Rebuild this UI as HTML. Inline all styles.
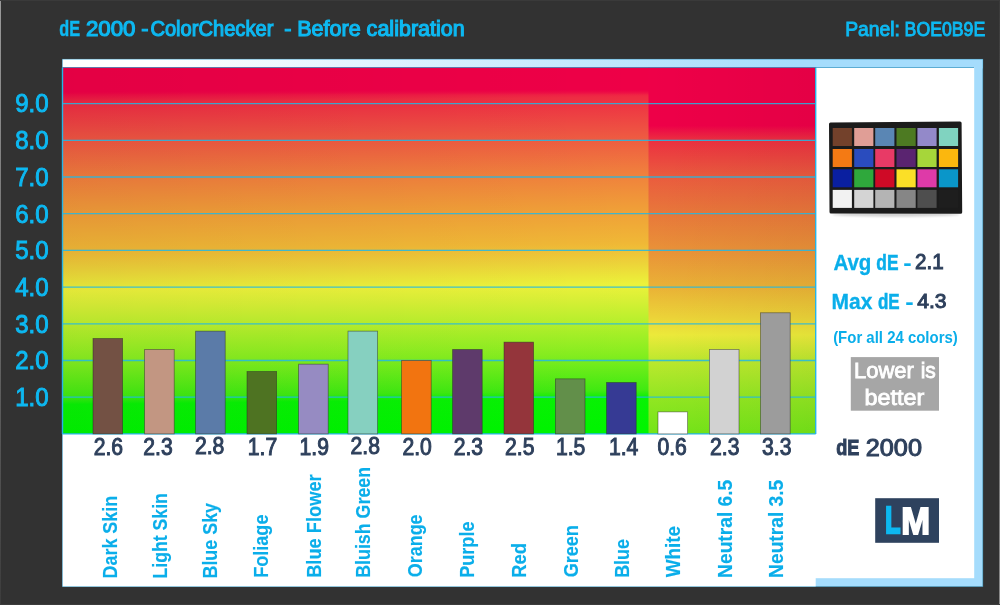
<!DOCTYPE html>
<html lang="en"><head><meta charset="utf-8"><title>dE 2000 - ColorChecker - Before calibration</title>
<style>html,body{margin:0;padding:0;background:#323232;}body{width:1000px;height:605px;overflow:hidden;}svg{display:block;}text{font-family:"Liberation Sans",sans-serif;}</style>
</head><body>
<svg width="1000" height="605" viewBox="0 0 1000 605">
<defs>
<linearGradient id="gmain" gradientUnits="userSpaceOnUse" x1="62.50" y1="67.50" x2="66.88" y2="433.85">
<stop offset="0.0000" stop-color="#ee0047"/>
<stop offset="0.0665" stop-color="#ee0047"/>
<stop offset="0.0985" stop-color="#ee2c43"/>
<stop offset="0.1987" stop-color="#ee5642"/>
<stop offset="0.2989" stop-color="#f07d3d"/>
<stop offset="0.3990" stop-color="#f09d38"/>
<stop offset="0.4992" stop-color="#f0b836"/>
<stop offset="0.5493" stop-color="#edd139"/>
<stop offset="0.5943" stop-color="#ecea39"/>
<stop offset="0.6094" stop-color="#ecf23b"/>
<stop offset="0.6494" stop-color="#d9f036"/>
<stop offset="0.6995" stop-color="#bef02e"/>
<stop offset="0.7997" stop-color="#86ee1f"/>
<stop offset="0.8998" stop-color="#3fea11"/>
<stop offset="0.9199" stop-color="#08f204"/>
<stop offset="1.0000" stop-color="#00f500"/>
</linearGradient>
<linearGradient id="gneu" x1="0" y1="0" x2="0" y2="1">
<stop offset="0.0000" stop-color="#ee0048"/>
<stop offset="0.1586" stop-color="#ee0048"/>
<stop offset="0.1987" stop-color="#ec3040"/>
<stop offset="0.2989" stop-color="#ea5c3e"/>
<stop offset="0.3990" stop-color="#e8783a"/>
<stop offset="0.4992" stop-color="#e99238"/>
<stop offset="0.5993" stop-color="#eab236"/>
<stop offset="0.6795" stop-color="#ecd238"/>
<stop offset="0.7296" stop-color="#ecea3a"/>
<stop offset="0.7997" stop-color="#bce82e"/>
<stop offset="0.8998" stop-color="#92e622"/>
<stop offset="1.0000" stop-color="#74e418"/>
</linearGradient>
<linearGradient id="gtop" x1="0" y1="0" x2="1" y2="0"><stop offset="0.1" stop-color="#ffffff"/><stop offset="0.8" stop-color="#a5dcfc"/></linearGradient>
<linearGradient id="gshade" x1="0" y1="0" x2="1" y2="0"><stop offset="0" stop-color="#000" stop-opacity="0.045"/><stop offset="1" stop-color="#000" stop-opacity="0"/></linearGradient>
<linearGradient id="gleft" x1="0" y1="0" x2="0" y2="1"><stop offset="0" stop-color="#9a9a9a"/><stop offset="1" stop-color="#3c3c3c"/></linearGradient>
<linearGradient id="gright" x1="0" y1="0" x2="0" y2="1"><stop offset="0" stop-color="#3a3a3a"/><stop offset="1" stop-color="#8a8a8a"/></linearGradient>
<linearGradient id="gcap" x1="0" y1="0" x2="0" y2="1"><stop offset="0" stop-color="#ee0047" stop-opacity="1"/><stop offset="1" stop-color="#ee0047" stop-opacity="0"/></linearGradient>
<filter id="blur" x="-10%" y="-300%" width="120%" height="700%"><feGaussianBlur stdDeviation="1.2"/></filter>
<linearGradient id="gshade2" x1="0" y1="0" x2="1" y2="0"><stop offset="0" stop-color="#000" stop-opacity="0"/><stop offset="1" stop-color="#000" stop-opacity="0.04"/></linearGradient>
</defs>
<rect x="0" y="0" width="1000" height="605" fill="#323232"/>
<rect x="0" y="0" width="1" height="605" fill="url(#gleft)"/>
<rect x="999" y="0" width="1" height="605" fill="url(#gright)"/>
<rect x="0" y="0" width="1000" height="1" fill="#3a3a3a"/>
<rect x="0" y="604" width="1000" height="1" fill="#3c3c3c"/>
<rect x="62.5" y="59.3" width="920.3" height="527.3" fill="#a5dcfc"/>
<rect x="62.5" y="59.3" width="920.3" height="9.2" fill="url(#gtop)"/>
<rect x="62.5" y="433.9" width="753.2" height="152.7" fill="#fff"/>
<rect x="813.7" y="67.5" width="160.5" height="510.7" fill="#fff"/>
<rect x="62.5" y="59.3" width="920.3" height="527.3" fill="none" stroke="#2aa6d6" stroke-opacity="0.4" stroke-width="0.9"/>
<rect x="62.5" y="67.5" width="753.2" height="366.4" fill="url(#gmain)"/>
<rect x="62.5" y="67.5" width="587" height="22.5" fill="#ee0047"/>
<rect x="62.5" y="89.9" width="587" height="5" fill="url(#gcap)"/>
<rect x="62.5" y="67.5" width="586" height="366.4" fill="url(#gshade)"/>
<rect x="648.5" y="67.5" width="167.2" height="366.4" fill="url(#gneu)"/>
<rect x="648.5" y="67.5" width="167.2" height="366.4" fill="url(#gshade2)"/>
<line x1="62.5" y1="397.20" x2="815.7" y2="397.20" stroke="#22b8e4" stroke-opacity="0.85" stroke-width="1.3"/>
<line x1="62.5" y1="360.50" x2="815.7" y2="360.50" stroke="#22b8e4" stroke-opacity="0.85" stroke-width="1.3"/>
<line x1="62.5" y1="323.80" x2="815.7" y2="323.80" stroke="#22b8e4" stroke-opacity="0.85" stroke-width="1.3"/>
<line x1="62.5" y1="287.10" x2="815.7" y2="287.10" stroke="#22b8e4" stroke-opacity="0.85" stroke-width="1.3"/>
<line x1="62.5" y1="250.40" x2="815.7" y2="250.40" stroke="#22b8e4" stroke-opacity="0.85" stroke-width="1.3"/>
<line x1="62.5" y1="213.70" x2="815.7" y2="213.70" stroke="#22b8e4" stroke-opacity="0.85" stroke-width="1.3"/>
<line x1="62.5" y1="177.00" x2="815.7" y2="177.00" stroke="#22b8e4" stroke-opacity="0.85" stroke-width="1.3"/>
<line x1="62.5" y1="140.30" x2="815.7" y2="140.30" stroke="#22b8e4" stroke-opacity="0.85" stroke-width="1.3"/>
<line x1="62.5" y1="103.60" x2="815.7" y2="103.60" stroke="#22b8e4" stroke-opacity="0.85" stroke-width="1.3"/>
<line x1="62.5" y1="433.90" x2="815.7" y2="433.90" stroke="#27b4e6" stroke-width="1.4"/>
<line x1="62.5" y1="67.5" x2="62.5" y2="433.9" stroke="#27b4e6" stroke-width="1.4"/>
<line x1="815.7" y1="67.5" x2="815.7" y2="433.9" stroke="#27b4e6" stroke-width="1.4"/>
<line x1="62.5" y1="67.5" x2="974" y2="67.5" stroke="#2a90c0" stroke-opacity="0.7" stroke-width="1"/>
<rect x="93.00" y="338.48" width="29.6" height="95.42" fill="#735144" stroke="rgba(40,40,40,0.55)" stroke-width="0.8"/>
<rect x="144.60" y="349.49" width="29.6" height="84.41" fill="#c29682" stroke="rgba(40,40,40,0.55)" stroke-width="0.8"/>
<rect x="195.60" y="331.14" width="29.6" height="102.76" fill="#5b7ba8" stroke="rgba(40,40,40,0.55)" stroke-width="0.8"/>
<rect x="247.00" y="371.51" width="29.6" height="62.39" fill="#4e7322" stroke="rgba(40,40,40,0.55)" stroke-width="0.8"/>
<rect x="298.60" y="364.17" width="29.6" height="69.73" fill="#968bc2" stroke="rgba(40,40,40,0.55)" stroke-width="0.8"/>
<rect x="348.00" y="331.14" width="29.6" height="102.76" fill="#86d0c0" stroke="rgba(40,40,40,0.55)" stroke-width="0.8"/>
<rect x="401.60" y="360.50" width="29.6" height="73.40" fill="#f27410" stroke="rgba(40,40,40,0.55)" stroke-width="0.8"/>
<rect x="452.60" y="349.49" width="29.6" height="84.41" fill="#5e3a6b" stroke="rgba(40,40,40,0.55)" stroke-width="0.8"/>
<rect x="504.00" y="342.15" width="29.6" height="91.75" fill="#94353b" stroke="rgba(40,40,40,0.55)" stroke-width="0.8"/>
<rect x="555.40" y="378.85" width="29.6" height="55.05" fill="#628f4a" stroke="rgba(40,40,40,0.55)" stroke-width="0.8"/>
<rect x="606.60" y="382.52" width="29.6" height="51.38" fill="#363a94" stroke="rgba(40,40,40,0.55)" stroke-width="0.8"/>
<rect x="658.00" y="411.88" width="29.6" height="22.02" fill="#ffffff" stroke="rgba(40,40,40,0.55)" stroke-width="0.8"/>
<rect x="709.40" y="349.49" width="29.6" height="84.41" fill="#d2d2d2" stroke="rgba(40,40,40,0.55)" stroke-width="0.8"/>
<rect x="760.60" y="312.79" width="29.6" height="121.11" fill="#9c9c9c" stroke="rgba(40,40,40,0.55)" stroke-width="0.8"/>
<text x="31.9" y="406.00" font-size="26" fill="#0db8f1" stroke="#0db8f1" stroke-width="1" text-anchor="middle" textLength="33.4" lengthAdjust="spacingAndGlyphs">1.0</text>
<text x="31.9" y="369.30" font-size="26" fill="#0db8f1" stroke="#0db8f1" stroke-width="1" text-anchor="middle" textLength="33.4" lengthAdjust="spacingAndGlyphs">2.0</text>
<text x="31.9" y="332.60" font-size="26" fill="#0db8f1" stroke="#0db8f1" stroke-width="1" text-anchor="middle" textLength="33.4" lengthAdjust="spacingAndGlyphs">3.0</text>
<text x="31.9" y="295.90" font-size="26" fill="#0db8f1" stroke="#0db8f1" stroke-width="1" text-anchor="middle" textLength="33.4" lengthAdjust="spacingAndGlyphs">4.0</text>
<text x="31.9" y="259.20" font-size="26" fill="#0db8f1" stroke="#0db8f1" stroke-width="1" text-anchor="middle" textLength="33.4" lengthAdjust="spacingAndGlyphs">5.0</text>
<text x="31.9" y="222.50" font-size="26" fill="#0db8f1" stroke="#0db8f1" stroke-width="1" text-anchor="middle" textLength="33.4" lengthAdjust="spacingAndGlyphs">6.0</text>
<text x="31.9" y="185.80" font-size="26" fill="#0db8f1" stroke="#0db8f1" stroke-width="1" text-anchor="middle" textLength="33.4" lengthAdjust="spacingAndGlyphs">7.0</text>
<text x="31.9" y="149.10" font-size="26" fill="#0db8f1" stroke="#0db8f1" stroke-width="1" text-anchor="middle" textLength="33.4" lengthAdjust="spacingAndGlyphs">8.0</text>
<text x="31.9" y="112.40" font-size="26" fill="#0db8f1" stroke="#0db8f1" stroke-width="1" text-anchor="middle" textLength="33.4" lengthAdjust="spacingAndGlyphs">9.0</text>
<text x="108.35" y="455.30" font-size="23" fill="#2e405c" stroke="#2e405c" stroke-width="1" text-anchor="middle" textLength="29.4" lengthAdjust="spacingAndGlyphs">2.6</text>
<text x="158.00" y="455.30" font-size="23" fill="#2e405c" stroke="#2e405c" stroke-width="1" text-anchor="middle" textLength="29.4" lengthAdjust="spacingAndGlyphs">2.3</text>
<text x="209.60" y="454.10" font-size="23" fill="#2e405c" stroke="#2e405c" stroke-width="1" text-anchor="middle" textLength="29.4" lengthAdjust="spacingAndGlyphs">2.8</text>
<text x="262.50" y="455.30" font-size="23" fill="#2e405c" stroke="#2e405c" stroke-width="1" text-anchor="middle" textLength="29.4" lengthAdjust="spacingAndGlyphs">1.7</text>
<text x="314.20" y="455.30" font-size="23" fill="#2e405c" stroke="#2e405c" stroke-width="1" text-anchor="middle" textLength="29.4" lengthAdjust="spacingAndGlyphs">1.9</text>
<text x="365.20" y="454.10" font-size="23" fill="#2e405c" stroke="#2e405c" stroke-width="1" text-anchor="middle" textLength="29.4" lengthAdjust="spacingAndGlyphs">2.8</text>
<text x="417.10" y="455.30" font-size="23" fill="#2e405c" stroke="#2e405c" stroke-width="1" text-anchor="middle" textLength="29.4" lengthAdjust="spacingAndGlyphs">2.0</text>
<text x="468.35" y="455.30" font-size="23" fill="#2e405c" stroke="#2e405c" stroke-width="1" text-anchor="middle" textLength="29.4" lengthAdjust="spacingAndGlyphs">2.3</text>
<text x="519.70" y="455.30" font-size="23" fill="#2e405c" stroke="#2e405c" stroke-width="1" text-anchor="middle" textLength="29.4" lengthAdjust="spacingAndGlyphs">2.5</text>
<text x="570.60" y="455.30" font-size="23" fill="#2e405c" stroke="#2e405c" stroke-width="1" text-anchor="middle" textLength="29.4" lengthAdjust="spacingAndGlyphs">1.5</text>
<text x="623.60" y="455.30" font-size="23" fill="#2e405c" stroke="#2e405c" stroke-width="1" text-anchor="middle" textLength="29.4" lengthAdjust="spacingAndGlyphs">1.4</text>
<text x="672.10" y="455.30" font-size="23" fill="#2e405c" stroke="#2e405c" stroke-width="1" text-anchor="middle" textLength="29.4" lengthAdjust="spacingAndGlyphs">0.6</text>
<text x="724.80" y="455.30" font-size="23" fill="#2e405c" stroke="#2e405c" stroke-width="1" text-anchor="middle" textLength="29.4" lengthAdjust="spacingAndGlyphs">2.3</text>
<text x="776.80" y="455.30" font-size="23" fill="#2e405c" stroke="#2e405c" stroke-width="1" text-anchor="middle" textLength="29.4" lengthAdjust="spacingAndGlyphs">3.3</text>
<text transform="translate(116.90 577.40) rotate(-90)" x="-1.14" y="0" font-size="20.25" fill="#0aaeea" font-weight="bold" stroke="#0aaeea" stroke-width="0.15" textLength="82.77" lengthAdjust="spacingAndGlyphs">Dark Skin</text>
<text transform="translate(166.90 577.40) rotate(-90)" x="-1.13" y="0" font-size="20.25" fill="#0aaeea" font-weight="bold" stroke="#0aaeea" stroke-width="0.15" textLength="85.43" lengthAdjust="spacingAndGlyphs">Light Skin</text>
<text transform="translate(216.70 577.40) rotate(-90)" x="-1.14" y="0" font-size="20.25" fill="#0aaeea" font-weight="bold" stroke="#0aaeea" stroke-width="0.15" textLength="75.60" lengthAdjust="spacingAndGlyphs">Blue Sky</text>
<text transform="translate(268.10 576.70) rotate(-90)" x="-1.15" y="0" font-size="20.25" fill="#0aaeea" font-weight="bold" stroke="#0aaeea" stroke-width="0.15" textLength="63.29" lengthAdjust="spacingAndGlyphs">Foliage</text>
<text transform="translate(320.60 576.70) rotate(-90)" x="-1.17" y="0" font-size="20.25" fill="#0aaeea" font-weight="bold" stroke="#0aaeea" stroke-width="0.15" textLength="103.58" lengthAdjust="spacingAndGlyphs">Blue Flower</text>
<text transform="translate(370.00 576.70) rotate(-90)" x="-1.14" y="0" font-size="20.25" fill="#0aaeea" font-weight="bold" stroke="#0aaeea" stroke-width="0.15" textLength="110.97" lengthAdjust="spacingAndGlyphs">Bluish Green</text>
<text transform="translate(422.20 576.50) rotate(-90)" x="-0.65" y="0" font-size="20.25" fill="#0aaeea" font-weight="bold" stroke="#0aaeea" stroke-width="0.15" textLength="62.69" lengthAdjust="spacingAndGlyphs">Orange</text>
<text transform="translate(473.90 576.70) rotate(-90)" x="-1.16" y="0" font-size="20.25" fill="#0aaeea" font-weight="bold" stroke="#0aaeea" stroke-width="0.15" textLength="56.41" lengthAdjust="spacingAndGlyphs">Purple</text>
<text transform="translate(526.20 576.70) rotate(-90)" x="-1.17" y="0" font-size="20.25" fill="#0aaeea" font-weight="bold" stroke="#0aaeea" stroke-width="0.15" textLength="34.73" lengthAdjust="spacingAndGlyphs">Red</text>
<text transform="translate(577.80 576.70) rotate(-90)" x="-0.66" y="0" font-size="20.25" fill="#0aaeea" font-weight="bold" stroke="#0aaeea" stroke-width="0.15" textLength="52.28" lengthAdjust="spacingAndGlyphs">Green</text>
<text transform="translate(628.80 576.70) rotate(-90)" x="-1.15" y="0" font-size="20.25" fill="#0aaeea" font-weight="bold" stroke="#0aaeea" stroke-width="0.15" textLength="38.90" lengthAdjust="spacingAndGlyphs">Blue</text>
<text transform="translate(680.00 577.40) rotate(-90)" x="0.07" y="0" font-size="20.25" fill="#0aaeea" font-weight="bold" stroke="#0aaeea" stroke-width="0.15" textLength="51.41" lengthAdjust="spacingAndGlyphs">White</text>
<text transform="translate(731.90 576.70) rotate(-90)" x="-1.23" y="0" font-size="20.25" fill="#0aaeea" font-weight="bold" stroke="#0aaeea" stroke-width="0.15" textLength="98.20" lengthAdjust="spacingAndGlyphs">Neutral 6.5</text>
<text transform="translate(783.00 576.70) rotate(-90)" x="-1.23" y="0" font-size="20.25" fill="#0aaeea" font-weight="bold" stroke="#0aaeea" stroke-width="0.15" textLength="98.20" lengthAdjust="spacingAndGlyphs">Neutral 3.5</text>
<text x="59.20" y="35.90" font-size="21.4" font-weight="bold" fill="#0db8f1" stroke="#0db8f1" stroke-width="0.5" textLength="20.80" lengthAdjust="spacingAndGlyphs">dE</text>
<text x="85.90" y="35.90" font-size="21.4" fill="#0db8f1" stroke="#0db8f1" stroke-width="1.15" textLength="49.60" lengthAdjust="spacingAndGlyphs">2000</text>
<text x="141.30" y="35.90" font-size="21.4" fill="#0db8f1" stroke="#0db8f1" stroke-width="1.15" textLength="7.20" lengthAdjust="spacingAndGlyphs">-</text>
<text x="150.40" y="35.90" font-size="21.4" fill="#0db8f1" stroke="#0db8f1" stroke-width="1.15" textLength="123.00" lengthAdjust="spacingAndGlyphs">ColorChecker</text>
<text x="284.20" y="35.90" font-size="21.4" fill="#0db8f1" stroke="#0db8f1" stroke-width="1.15" textLength="7.20" lengthAdjust="spacingAndGlyphs">-</text>
<text x="297.20" y="35.90" font-size="21.4" fill="#0db8f1" stroke="#0db8f1" stroke-width="1.15" textLength="167.60" lengthAdjust="spacingAndGlyphs">Before calibration</text>
<text x="845.20" y="35.50" font-size="19.4" fill="#0db8f1" stroke="#0db8f1" stroke-width="0.9" textLength="54.80" lengthAdjust="spacingAndGlyphs">Panel:</text>
<text x="904.60" y="35.50" font-size="19.4" fill="#0db8f1" stroke="#0db8f1" stroke-width="0.9" textLength="80.60" lengthAdjust="spacingAndGlyphs">BOE0B9E</text>
<ellipse cx="896" cy="214.5" rx="64" ry="2.2" fill="#000" opacity="0.18" filter="url(#blur)"/>
<path d="M830.5 122.5 Q829 122.5 829 124 L829.5 212 Q829.5 213.6 831 213.6 L960.5 213.8 Q962.2 213.8 962.2 212.2 L961.6 123 Q961.6 121.4 960 121.4 Z" fill="#1b1b1b"/>
<rect x="832.7" y="128" width="19.2" height="18" fill="#73412b"/>
<rect x="854.2" y="128" width="19.2" height="18" fill="#e09e96"/>
<rect x="875.2" y="128" width="19.2" height="18" fill="#5a86b4"/>
<rect x="896.5" y="128" width="19.2" height="18" fill="#4d7a22"/>
<rect x="917.4" y="128" width="19.2" height="18" fill="#9389c9"/>
<rect x="938.9" y="128" width="19.2" height="18" fill="#80d3c0"/>
<rect x="832.7" y="149" width="19.2" height="18" fill="#f47a14"/>
<rect x="854.2" y="149" width="19.2" height="18" fill="#2a4cbe"/>
<rect x="875.2" y="149" width="19.2" height="18" fill="#e83a66"/>
<rect x="896.5" y="149" width="19.2" height="18" fill="#5a2470"/>
<rect x="917.4" y="149" width="19.2" height="18" fill="#a6d63a"/>
<rect x="938.9" y="149" width="19.2" height="18" fill="#fbb70e"/>
<rect x="832.7" y="169.3" width="19.2" height="18" fill="#0a1fa0"/>
<rect x="854.2" y="169.3" width="19.2" height="18" fill="#2fa83c"/>
<rect x="875.2" y="169.3" width="19.2" height="18" fill="#cf0a26"/>
<rect x="896.5" y="169.3" width="19.2" height="18" fill="#fbdf27"/>
<rect x="917.4" y="169.3" width="19.2" height="18" fill="#de3aa8"/>
<rect x="938.9" y="169.3" width="19.2" height="18" fill="#0a96c9"/>
<rect x="832.7" y="189.9" width="19.2" height="18" fill="#f2f2f2"/>
<rect x="854.2" y="189.9" width="19.2" height="18" fill="#d4d4d4"/>
<rect x="875.2" y="189.9" width="19.2" height="18" fill="#b4b4b4"/>
<rect x="896.5" y="189.9" width="19.2" height="18" fill="#868686"/>
<rect x="917.4" y="189.9" width="19.2" height="18" fill="#4e4e4e"/>
<rect x="938.9" y="189.9" width="19.2" height="18" fill="#1e1e1e"/>
<text x="833.38" y="270.10" font-size="21.75" fill="#0aaeea" font-weight="bold" stroke="#0aaeea" stroke-width="0.3" textLength="38.06" lengthAdjust="spacingAndGlyphs">Avg</text>
<text x="876.31" y="270.15" font-size="21.38" fill="#0aaeea" font-weight="bold" stroke="#0aaeea" stroke-width="0.5" textLength="22.19" lengthAdjust="spacingAndGlyphs">dE</text>
<text x="903.39" y="270.40" font-size="22.11" fill="#0aaeea" font-weight="bold" textLength="8.44" lengthAdjust="spacingAndGlyphs">-</text>
<text x="915.05" y="268.80" font-size="21.36" fill="#2e405c" stroke="#2e405c" stroke-width="1" textLength="28.65" lengthAdjust="spacingAndGlyphs">2.1</text>
<text x="831.53" y="309.05" font-size="21.67" fill="#0aaeea" font-weight="bold" stroke="#0aaeea" stroke-width="0.3" textLength="40.89" lengthAdjust="spacingAndGlyphs">Max</text>
<text x="877.92" y="308.95" font-size="21.38" fill="#0aaeea" font-weight="bold" stroke="#0aaeea" stroke-width="0.5" textLength="21.77" lengthAdjust="spacingAndGlyphs">dE</text>
<text x="905.19" y="309.20" font-size="22.11" fill="#0aaeea" font-weight="bold" textLength="8.44" lengthAdjust="spacingAndGlyphs">-</text>
<text x="917.24" y="307.59" font-size="20.64" fill="#2e405c" stroke="#2e405c" stroke-width="1" textLength="29.35" lengthAdjust="spacingAndGlyphs">4.3</text>
<text x="833.15" y="342.70" font-size="16.44" fill="#0aaeea" font-weight="bold" textLength="124.61" lengthAdjust="spacingAndGlyphs">(For all 24 colors)</text>
<rect x="850.8" y="357.1" width="88.2" height="53.6" fill="#a6a6a6"/>
<text x="854.00" y="378.10" font-size="21.24" fill="#ffffff" stroke="#ffffff" stroke-width="0.8" textLength="59.74" lengthAdjust="spacingAndGlyphs">Lower</text>
<text x="920.68" y="378.10" font-size="21.24" fill="#ffffff" stroke="#ffffff" stroke-width="0.8" textLength="15.15" lengthAdjust="spacingAndGlyphs">is</text>
<text x="864.52" y="405.00" font-size="21.24" fill="#ffffff" stroke="#ffffff" stroke-width="0.8" textLength="59.78" lengthAdjust="spacingAndGlyphs">better</text>
<text x="836.18" y="455.30" font-size="22.55" fill="#2e405c" font-weight="bold" stroke="#2e405c" stroke-width="1" textLength="23.15" lengthAdjust="spacingAndGlyphs">dE</text>
<text x="865.78" y="455.67" font-size="23.18" fill="#2e405c" stroke="#2e405c" stroke-width="1" textLength="56.18" lengthAdjust="spacingAndGlyphs">2000</text>
<rect x="875.2" y="498.2" width="63.8" height="44.6" fill="#2e425e"/>
<text x="885.17" y="533.45" font-size="36.80" fill="#0db8f1" font-weight="bold" stroke="#0db8f1" stroke-width="2.5" stroke-linejoin="miter" textLength="15.15" lengthAdjust="spacingAndGlyphs">L</text>
<text x="901.19" y="533.80" font-size="37.82" fill="#ffffff" font-weight="bold" stroke="#ffffff" stroke-width="1.8" stroke-linejoin="miter" textLength="28.86" lengthAdjust="spacingAndGlyphs">M</text>
</svg>
</body></html>
